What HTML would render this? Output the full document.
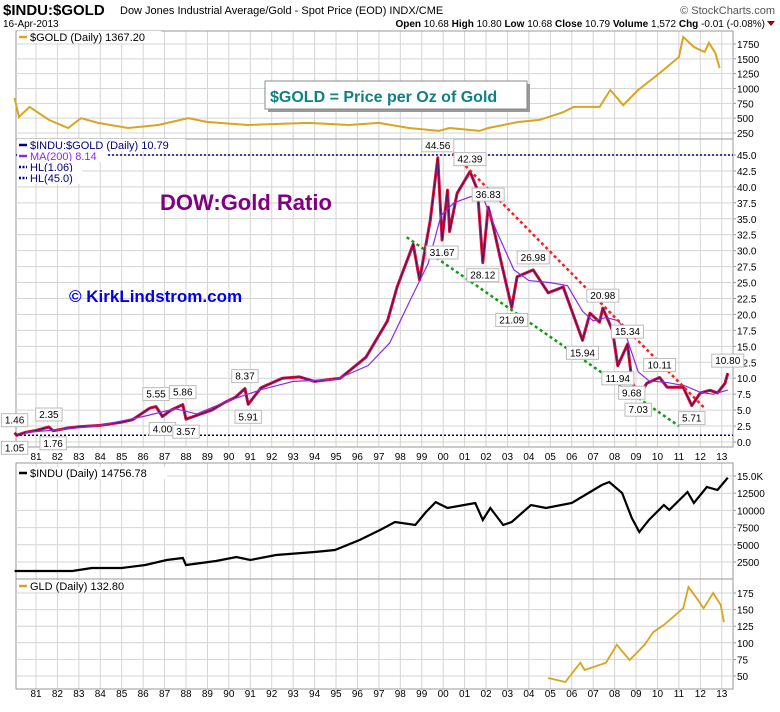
<!DOCTYPE html>
<html><head><meta charset="utf-8">
<style>
body{margin:0;background:#fff;font-family:"Liberation Sans",sans-serif;}
svg text{font-family:"Liberation Sans",sans-serif;}
</style></head>
<body>
<svg id="c" width="780" height="707" xmlns="http://www.w3.org/2000/svg">
<rect width="780" height="707" fill="#fff"/>
<text x="3" y="15" font-size="15" font-weight="bold">$INDU:$GOLD</text>
<text x="120" y="14" font-size="11">Dow Jones Industrial Average/Gold - Spot Price (EOD) INDX/CME</text>
<text x="775" y="14" font-size="11" fill="#555" text-anchor="end">© StockCharts.com</text>
<text x="3" y="27" font-size="10">16-Apr-2013</text>
<text x="765" y="27" font-size="10" text-anchor="end"><tspan font-weight="bold">Open</tspan> 10.68 <tspan font-weight="bold">High</tspan> 10.80 <tspan font-weight="bold">Low</tspan> 10.68 <tspan font-weight="bold">Close</tspan> 10.79 <tspan font-weight="bold">Volume</tspan> 1,572 <tspan font-weight="bold">Chg</tspan> -0.01 (-0.08%)</text>
<polygon points="767,21 775,21 771,26" fill="#900"/>
<g id="g"></g>
</svg>
<script>
// ---- data ----
const yearLabels=["81","82","83","84","85","86","87","88","89","90","91","92","93","94","95","96","97","98","99","00","01","02","03","04","05","06","07","08","09","10","11","12","13"];
const goldYears=[1980.0,1980.2,1980.7,1981.6,1982.5,1983.1,1983.9,1985.3,1986.7,1988.1,1989.0,1990.9,1993.7,1995.6,1997.0,1998.4,1999.8,2000.3,2001.7,2002.1,2003.5,2004.5,2005.6,2006.1,2007.3,2007.8,2008.4,2009.1,2010.1,2011.0,2011.2,2011.7,2012.2,2012.4,2012.7,2012.9];
const goldVals=[840,520,690,470,335,500,420,335,385,500,435,385,420,385,420,335,285,335,285,335,435,470,600,690,690,975,720,975,1260,1530,1870,1700,1615,1770,1600,1345];
const goldTicks=[250,500,750,1000,1250,1500,1750];
const ratioYears=[1980.0,1980.1,1980.5,1981.0,1981.6,1981.8,1982.5,1983.0,1984.0,1985.0,1985.5,1986.3,1986.6,1986.9,1987.3,1987.85,1988.0,1988.6,1989.2,1989.8,1990.3,1990.75,1990.9,1991.5,1992.5,1993.3,1994.0,1995.2,1996.4,1997.4,1997.85,1998.6,1998.9,1999.4,1999.75,1999.95,2000.2,2000.3,2000.65,2001.25,2001.6,2001.85,2002.1,2002.3,2002.65,2003.2,2003.45,2004.2,2004.9,2005.6,2006.5,2006.85,2007.3,2007.45,2007.9,2008.15,2008.6,2008.8,2009.1,2009.5,2010.1,2010.45,2011.2,2011.6,2012.0,2012.45,2012.8,2013.15,2013.28];
const ratioVals=[1.46,1.05,1.5,1.8,2.35,1.76,2.2,2.4,2.6,3.1,3.5,5.3,5.55,4.0,5.0,5.86,3.57,4.3,5.0,6.2,7.0,8.37,5.91,8.5,10.0,10.2,9.5,10.0,13.3,19.0,24.3,31.0,25.4,34.8,44.56,31.67,39.5,33.0,39.0,42.39,39.5,28.12,36.83,34.3,29.0,21.09,25.9,26.98,23.4,24.3,15.94,20.2,18.8,20.98,17.5,11.94,15.34,9.68,7.03,9.2,10.11,8.6,8.6,5.71,7.7,8.1,7.7,9.2,10.8];
const maYears=[1980.5,1982,1984,1986,1987.5,1988.5,1990,1991.5,1993,1995,1996.5,1997.5,1998.5,1999.3,1999.9,2000.5,2001.3,2001.9,2002.5,2003.3,2004.0,2005.0,2005.8,2006.5,2007.0,2007.6,2008.2,2008.6,2009.1,2009.6,2010.5,2011.3,2012.0,2012.6,2013.28];
const maVals=[1.5,1.9,2.6,4.0,5.2,4.4,6.5,8.2,9.5,9.8,12.0,15.5,22.5,28.0,35.5,37.5,38.5,38.0,33.0,27.0,25.3,25.0,24.5,20.5,19.0,19.5,19.0,16.0,11.0,9.6,9.3,8.8,7.8,7.5,8.14];
const ratioTicks=[0,2.5,5,7.5,10,12.5,15,17.5,20,22.5,25,27.5,30,32.5,35,37.5,40,42.5,45];
const peakLabels=[["1.46",1980.0,1.46,-1],["1.05",1980.0,1.05,1],["2.35",1981.6,2.35,-1],["1.76",1981.8,1.76,1],["5.55",1986.6,5.55,-1],["4.00",1986.9,4.0,1],["5.86",1987.85,5.86,-1],["3.57",1988.0,3.57,1],["8.37",1990.75,8.37,-1],["5.91",1990.9,5.91,1],["44.56",1999.75,44.56,-1],["31.67",1999.95,31.67,1],["42.39",2001.25,42.39,-1],["36.83",2002.1,36.83,-1],["28.12",2001.85,28.12,1],["26.98",2004.2,26.98,-1],["21.09",2003.2,21.09,1],["20.98",2007.45,20.98,-1],["15.94",2006.5,15.94,1],["15.34",2008.6,15.34,-1],["11.94",2008.15,11.94,1],["9.68",2008.8,9.68,1],["10.11",2010.1,10.11,-1],["7.03",2009.1,7.03,1],["5.71",2011.6,5.71,1],["10.80",2013.28,10.8,-1]];
const redTrend=[[2000.45,45.3],[2012.2,5.3]];
const greenTrend=[[1998.3,32.1],[2011.0,2.5]];
const hlLevels=[45,1.06];
const induYears=[1980.0,1982.7,1983.6,1985.0,1986.1,1987.1,1987.85,1988.0,1989.4,1990.35,1991.0,1992.2,1994.0,1994.95,1996.1,1997.05,1997.75,1998.7,1999.2,1999.65,2000.2,2001.5,2001.85,2002.2,2002.8,2003.2,2004.1,2004.8,2006.0,2007.4,2007.75,2008.35,2008.8,2009.15,2009.6,2010.3,2010.55,2011.4,2011.7,2012.3,2012.8,2013.28];
const induVals=[1190,1190,1630,1630,2060,2790,3080,2060,2650,3230,2790,3520,3950,4240,5700,7150,8310,7880,9770,11200,10350,11070,8600,10350,7880,8310,10790,10350,11070,13690,14130,12530,8890,6860,8600,10790,10060,12680,11070,13400,12970,14756];
const induTicks=[2500,5000,7500,10000,12500,15000];
const induTickLabels=["2500","5000","7500","10000","12500","15.0K"];
const gldYears=[2004.9,2005.7,2006.4,2006.6,2007.6,2008.1,2008.7,2009.4,2009.8,2010.3,2011.2,2011.45,2011.9,2012.15,2012.6,2012.95,2013.1];
const gldVals=[47,41,70,59,70,97,74,97,116,127,152,184,164,152,175,157,131];
const gldTicks=[50,75,100,125,150,175];

// ---- axes ----
const L=16,R=733;
const X=y=>36+(y-1981)*21.43;
const Yg=v=>133-(v-250)*89/1500;
const Yr=v=>442-v*287/45;
const Yi=v=>562-(v-2500)*17.2/2500;
const Yd=v=>676-(v-50)*83/125;
const NS="http://www.w3.org/2000/svg";
const G=document.getElementById('g');
function mk(t,a,p){const e=document.createElementNS(NS,t);for(const k in a)e.setAttribute(k,a[k]);(p||G).appendChild(e);return e;}
function txt(x,y,s,a,p){const e=mk('text',Object.assign({x:x,y:y,'font-size':10},a),p);e.textContent=s;return e;}
function pts(xs,vs,f){return xs.map((y,i)=>X(y).toFixed(1)+','+f(vs[i]).toFixed(1)).join(' ');}

const panels=[[31,139,'gold-panel'],[139,447,'ratio-panel'],[463,579,'indu-panel'],[579,689,'gld-panel']];
panels.forEach(p=>{
  const g=mk('g',{});
  
  
  for(let yr=1981;yr<=2013;yr++){const l=mk('line',{x1:X(yr),x2:X(yr),y1:p[0],y2:p[1],stroke:'#d4d4d4','stroke-width':1},g);}
  const r=mk('rect',{x:L,y:p[0],width:R-L,height:p[1]-p[0],fill:'none',stroke:'#999'},g);
  
  
});
function hgrid(ticks,f,labels,name){
  ticks.forEach((t,i)=>{
    const l=mk('line',{x1:L,x2:R,y1:f(t),y2:f(t),stroke:'#d4d4d4'});
    
    
    mk('line',{x1:R,x2:R+3,y1:f(t),y2:f(t),stroke:'#999'});
    const e=txt(R+4,f(t)+4,labels?labels[i]:String(t),{'font-size':10});
    
    
  });
}
hgrid(goldTicks,Yg,null,'gold-y');
hgrid(ratioTicks,Yr,ratioTicks.map(t=>t.toFixed(1)),'ratio-y');
hgrid(induTicks,Yi,induTickLabels,'indu-y');
hgrid(gldTicks,Yd,null,'gld-y');
[460,697].forEach((yy,k)=>yearLabels.forEach((s,i)=>{const e=txt(X(1981+i),yy,s,{'font-size':10,'text-anchor':'middle'});}));

// ---- series ----
let e;
e=mk('polyline',{points:pts(goldYears,goldVals,Yg),fill:'none',stroke:'#d9a520','stroke-width':2});

hlLevels.forEach(h=>{e=mk('line',{x1:L,x2:R,y1:Yr(h),y2:Yr(h),stroke:'#000080','stroke-width':1.5,'stroke-dasharray':'2,2'});});
e=mk('polyline',{points:pts(ratioYears,ratioVals,Yr),fill:'none',stroke:'#d0103a','stroke-width':3,'stroke-linejoin':'round'});

e=mk('polyline',{points:pts(ratioYears,ratioVals,Yr),fill:'none',stroke:'#1a1a80','stroke-width':0.7});

e=mk('polyline',{points:pts(maYears,maVals,Yr),fill:'none',stroke:'#8a2be2','stroke-width':1.2});

e=mk('line',{x1:X(redTrend[0][0]),y1:Yr(redTrend[0][1]),x2:X(redTrend[1][0]),y2:Yr(redTrend[1][1]),stroke:'#ff1a1a','stroke-width':2.5,'stroke-dasharray':'3,3'});

e=mk('line',{x1:X(greenTrend[0][0]),y1:Yr(greenTrend[0][1]),x2:X(greenTrend[1][0]),y2:Yr(greenTrend[1][1]),stroke:'#119911','stroke-width':2.5,'stroke-dasharray':'3,3'});

peakLabels.forEach(p=>{
  const x=X(p[1]),y=Yr(p[2]),w=p[0].length*5.6+4,by=p[3]<0?y-19:y+6;
  const g=mk('g',{});
  
  
  mk('rect',{x:x-w/2,y:by,width:w,height:13,fill:'#fff',stroke:'#bbb'},g);
  txt(x,by+10,p[0],{'font-size':10,'text-anchor':'middle'},g);
});
e=mk('polyline',{points:pts(induYears,induVals,Yi),fill:'none',stroke:'#000','stroke-width':2.2});

e=mk('polyline',{points:pts(gldYears,gldVals,Yd),fill:'none',stroke:'#d9a520','stroke-width':1.8});


// ---- legends & annotations ----
function leg(y,color,s,name,dotted){
  const g=mk('g',{});
  
  
  mk('rect',{x:17,y:y-10,width:s.length*6.1+16,height:12,fill:'#fff'},g);
  mk('line',{x1:19,x2:27,y1:y-4,y2:y-4,stroke:color,'stroke-width':2.5,'stroke-dasharray':dotted?'2,1.5':'none'},g);
  txt(30,y,s,{'font-size':11,fill:color==='#d9a520'?'#000':color},g);
}
leg(41,'#d9a520','$GOLD (Daily) 1367.20','gold-legend');
leg(149,'#000080','$INDU:$GOLD (Daily) 10.79','ratio-legend');
leg(160,'#8a2be2','MA(200) 8.14','ma200-legend');
leg(171,'#000080','HL(1.06)','hl-low-legend',true);
leg(182,'#000080','HL(45.0)','hl-high-legend',true);
leg(477,'#000','$INDU (Daily) 14756.78','indu-legend');
leg(590,'#d9a520','GLD (Daily) 132.80','gld-legend');
const gb=mk('g',{});


mk('rect',{x:268,y:84,width:262,height:28,fill:'#999'},gb);
mk('rect',{x:265,y:81,width:262,height:28,fill:'#fff',stroke:'#888'},gb);
txt(270,102,'$GOLD = Price per Oz of Gold',{'font-size':16,'font-weight':'bold',fill:'#108080'},gb);
e=txt(160,210,'DOW:Gold Ratio',{'font-size':22,'font-weight':'bold',fill:'#800080'});

e=txt(69,302,'© KirkLindstrom.com',{'font-size':17,'font-weight':'bold',fill:'#0000ee'});

</script>
</body></html>
